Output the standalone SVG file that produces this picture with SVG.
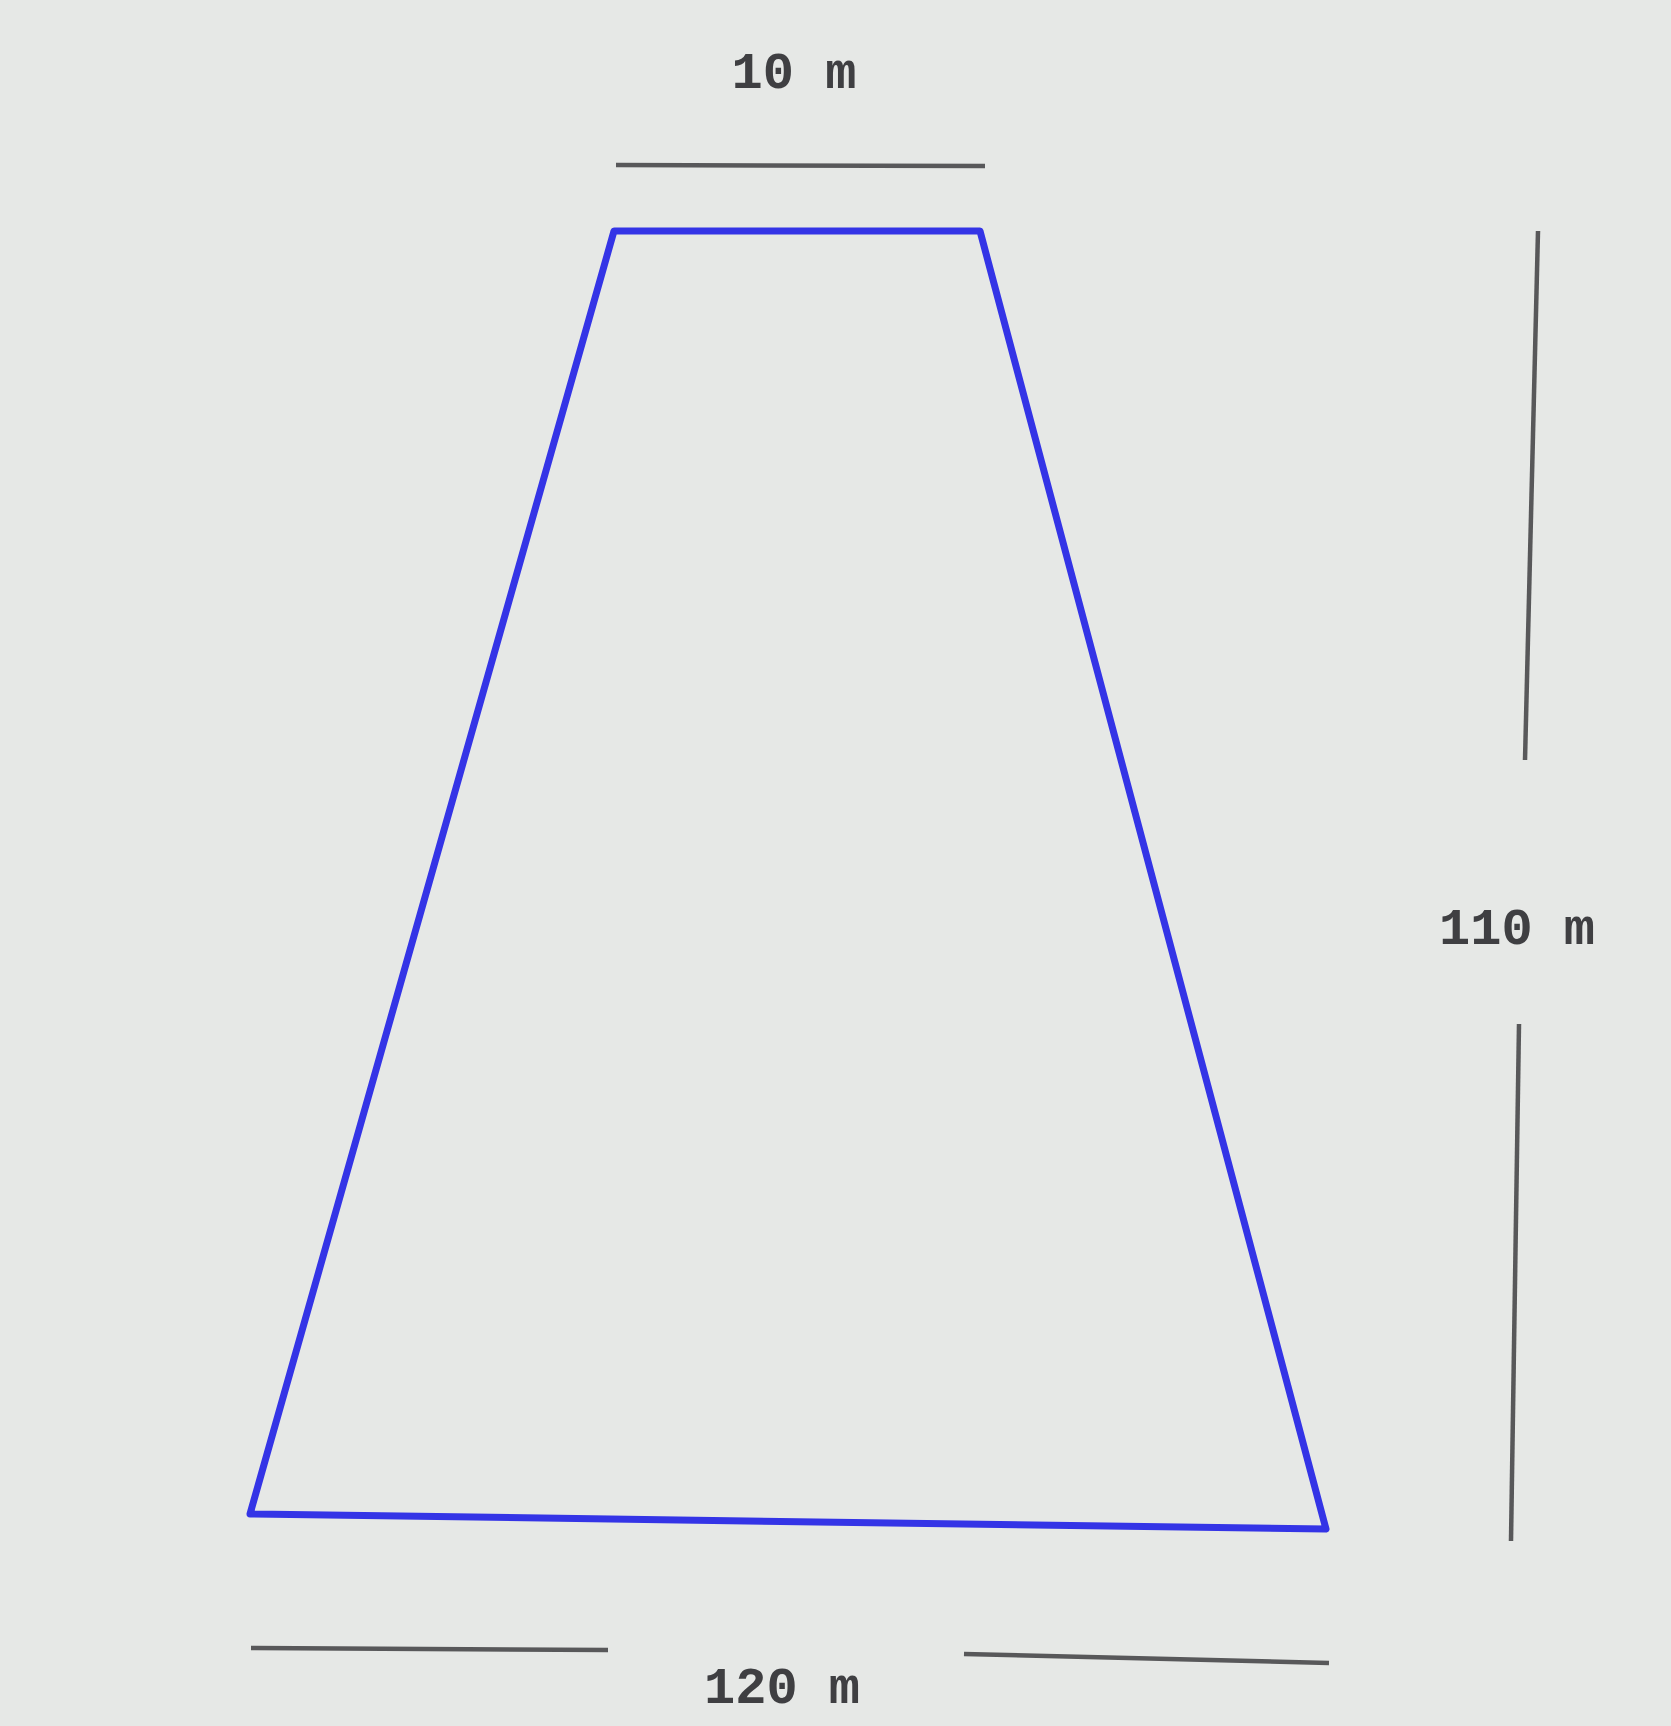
<svg xmlns="http://www.w3.org/2000/svg" width="1671" height="1726" viewBox="0 0 1671 1726">
<style>
.lbl{font-family:"Liberation Mono","DejaVu Sans Mono",monospace;font-weight:bold;font-size:52px;fill:#3f3f42;text-anchor:middle}
.dim{stroke:#58585a;stroke-width:4.5;stroke-linecap:butt;fill:none}
.shape{stroke:#3434e6;stroke-width:7;fill:none;stroke-linejoin:round}
</style>
<rect width="1671" height="1726" fill="#e6e8e6"/>
<g id="trapezoid">
<polygon class="shape" points="614,231 980,231 1326,1529 250,1514"/>
</g>
<g id="dimensions">
<line class="dim" x1="616" y1="165" x2="985" y2="166"/>
<line class="dim" x1="1538" y1="231" x2="1525" y2="760"/>
<line class="dim" x1="1519" y1="1024" x2="1511" y2="1541"/>
<line class="dim" x1="251" y1="1648" x2="608" y2="1650"/>
<line class="dim" x1="964" y1="1654" x2="1329" y2="1663"/>
</g>
<g id="labels">
<text class="lbl" x="794" y="88">10 m</text>
<text class="lbl" x="1517" y="944">110 m</text>
<text class="lbl" x="782" y="1703">120 m</text>
</g>
</svg>
